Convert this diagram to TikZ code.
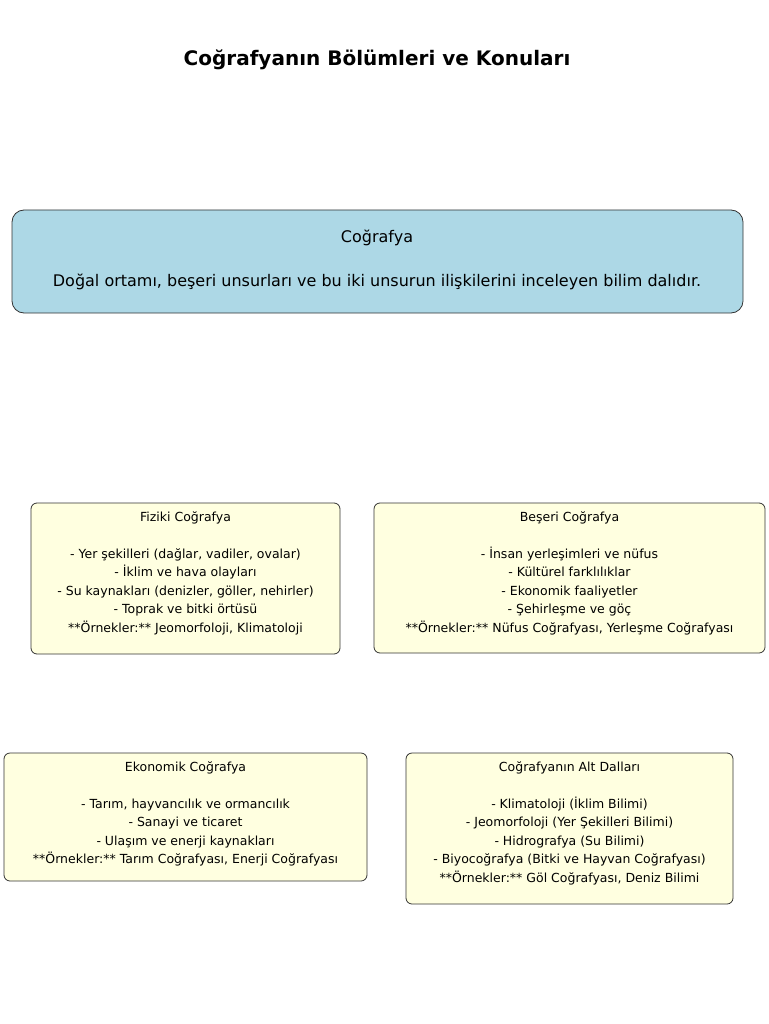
\documentclass[tikz,border=0pt]{standalone}
\usepackage{fontspec}
\setmainfont{DejaVu Sans}
\begin{document}
\begin{tikzpicture}[x=1pt,y=-1pt,
  boxy/.style={draw=black!80,line width=0.8pt,rounded corners=6pt,fill=yellowbg},
  txt/.style={align=center,font=\fontsize{12.5}{18.5}\selectfont,anchor=north,inner sep=0pt}]
\definecolor{bluebg}{RGB}{173,216,230}
\definecolor{yellowbg}{RGB}{255,255,224}
\useasboundingbox (0,0) rectangle (768,1024);
\node[font=\bfseries\fontsize{20}{24}\selectfont] (title) at (377,60) {Coğrafyanın Bölümleri ve Konuları};
\draw[draw=black!80,line width=0.8pt,rounded corners=12pt,fill=bluebg] (12,210) rectangle (743,313);
\node[font=\fontsize{16}{20}\selectfont] (c1) at (377,238) {Coğrafya};
\node[font=\fontsize{16}{20}\selectfont] (c2) at (377,282) {Doğal ortamı, beşeri unsurları ve bu iki unsurun ilişkilerini inceleyen bilim dalıdır.};

\draw[boxy] (31,503) rectangle (340,654);
\node[txt] (f) at (185.5,511) {Fiziki Coğrafya\\[0pt] \\ - Yer şekilleri (dağlar, vadiler, ovalar)\\- İklim ve hava olayları\\- Su kaynakları (denizler, göller, nehirler)\\- Toprak ve bitki örtüsü\\**Örnekler:** Jeomorfoloji, Klimatoloji};

\draw[boxy] (374,503) rectangle (765,653);
\node[txt] (b) at (569.5,511) {Beşeri Coğrafya\\ \\- İnsan yerleşimleri ve nüfus\\- Kültürel farklılıklar\\- Ekonomik faaliyetler\\- Şehirleşme ve göç\\**Örnekler:** Nüfus Coğrafyası, Yerleşme Coğrafyası};

\draw[boxy] (4,753) rectangle (367,881);
\node[txt] (e) at (185.5,761) {Ekonomik Coğrafya\\ \\- Tarım, hayvancılık ve ormancılık\\- Sanayi ve ticaret\\- Ulaşım ve enerji kaynakları\\**Örnekler:** Tarım Coğrafyası, Enerji Coğrafyası};

\draw[boxy] (406,753) rectangle (733,904);
\node[txt] (a) at (569.5,761) {Coğrafyanın Alt Dalları\\ \\- Klimatoloji (İklim Bilimi)\\- Jeomorfoloji (Yer Şekilleri Bilimi)\\- Hidrografya (Su Bilimi)\\- Biyocoğrafya (Bitki ve Hayvan Coğrafyası)\\**Örnekler:** Göl Coğrafyası, Deniz Bilimi};
\end{tikzpicture}
\end{document}
